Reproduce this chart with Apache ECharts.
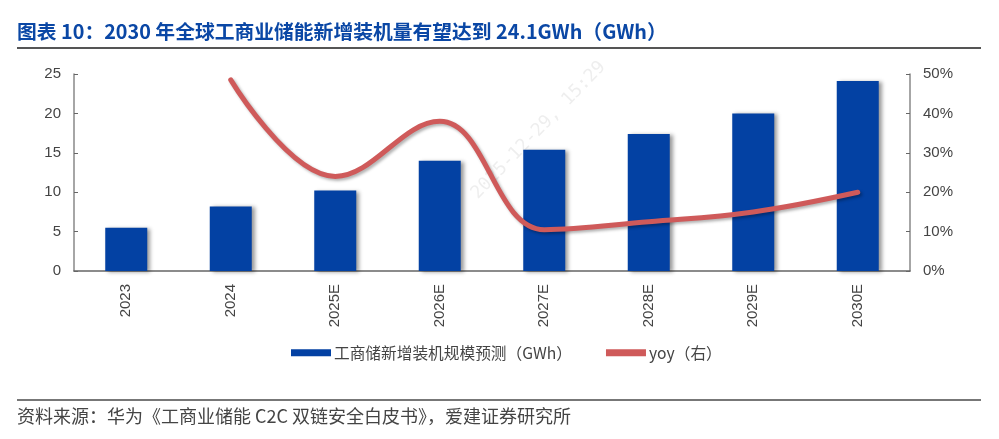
<!DOCTYPE html>
<html>
<head>
<meta charset="utf-8">
<style>
html,body{margin:0;padding:0;background:#fff}
#main{width:999px;height:439px}
</style>
<script src="https://cdn.jsdelivr.net/npm/echarts@6/dist/echarts.min.js"></script>
</head>
<body>
<div id="main"></div>
<script>
var categories = ['2023','2024','2025E','2026E','2027E','2028E','2029E','2030E'];
var capacity = [5.5,8.2,10.2,14,15.4,17.4,20,24.1];
var yoy = [null,48.5,24,38,10.5,12.5,15,20];

var cjk = '"Noto Sans CJK SC","Liberation Sans",sans-serif';
var latin = '"Liberation Sans",Arial,sans-serif';

var chart = echarts.init(document.getElementById('main'));
chart.setOption({
	animation:false,
	backgroundColor:'#fff',
	title:{
		text:'图表 10：2030 年全球工商业储能新增装机量有望达到 24.1GWh（GWh）',
		left:12, top:17,
		textStyle:{color:'#0a47a5',fontSize:19.8,fontWeight:'bold',fontFamily:cjk}
	},
	legend:{
		top:340,
		left:286,
		itemGap:34,
		itemWidth:40,
		itemHeight:7,
		textStyle:{color:'#444',fontSize:15.7,fontFamily:cjk,padding:[0,0,0,-2]},
		data:[
			{name:'工商储新增装机规模预测（GWh）',icon:'rect'},
			{name:'yoy（右）',icon:'rect',itemStyle:{color:'#cf5a5a'}}
		]
	},
	grid:{left:74,right:89,top:74,bottom:168},
	xAxis:{
		type:'category',
		data:categories,
		axisLine:{lineStyle:{color:'#666',width:1.5}},
		axisTick:{inside:true,length:5,lineStyle:{color:'#666'}},
		axisLabel:{rotate:90,margin:13,color:'#444',fontSize:15,fontFamily:latin}
	},
	yAxis:[
		{
			type:'value',min:0,max:25,interval:5,
			axisLine:{show:true,lineStyle:{color:'#888',width:1.5}},
			axisTick:{show:true,inside:true,length:4,lineStyle:{color:'#666'}},
			splitLine:{show:false},
			axisLabel:{margin:13,color:'#444',fontSize:15,fontFamily:latin}
		},
		{
			type:'value',min:0,max:50,interval:10,
			axisLine:{show:true,lineStyle:{color:'#888',width:1.5}},
			axisTick:{show:true,inside:true,length:4,lineStyle:{color:'#666'}},
			splitLine:{show:false},
			axisLabel:{margin:13,color:'#444',fontSize:15,fontFamily:latin,formatter:'{value}%'}
		}
	],
	series:[
		{
			name:'工商储新增装机规模预测（GWh）',
			type:'bar',
			data:capacity,
			barWidth:42,
			itemStyle:{color:'#0341a3',shadowColor:'rgba(0,0,0,0.4)',shadowBlur:4,shadowOffsetX:3,shadowOffsetY:1}
		},
		{
			name:'yoy（右）',
			type:'line',
			yAxisIndex:1,
			data:yoy,
			smooth:0.4,
			showSymbol:false,
			lineStyle:{color:'#cf5a5a',width:5,cap:'round',shadowColor:'rgba(0,0,0,0.3)',shadowBlur:3,shadowOffsetX:2,shadowOffsetY:2},
			itemStyle:{color:'#cf5a5a'}
		}
	],
	graphic:[
		{type:'rect',shape:{x:17,y:47,width:964,height:2},style:{fill:'#555'}},
		{type:'rect',shape:{x:17,y:399,width:964,height:2},style:{fill:'#777'}},
		{type:'text',x:17,y:407,style:{text:'资料来源：华为《工商业储能 C2C 双链安全白皮书》，爱建证券研究所',fill:'#444',fontSize:18,fontFamily:cjk}},
		// faint date watermark behind the plot
		{type:'text',x:468,y:190,rotation:0.8,z:-1,style:{text:'2025-12-29, 15:29',fill:'rgba(170,170,170,0.2)',fontSize:18,fontFamily:'"DejaVu Sans Mono",monospace'}}
	]
});
</script>
</body>
</html>
